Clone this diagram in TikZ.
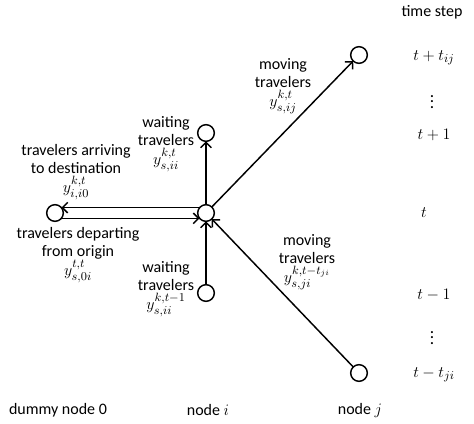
\documentclass[tikz,border=0pt]{standalone}
\usepackage{amsmath, amssymb}
\usepackage{fontspec}
\setmainfont{Carlito}
\usepackage{tikz}
\usetikzlibrary{arrows.meta}

\newcommand{\flowvar}[1]{{\fontsize{13}{14}\selectfont$#1$}}

\tikzset{
  stop/.style={circle, draw, line width=1.1pt, minimum size=12.5pt, inner sep=0pt, outer sep=0pt},
  flow/.style={line width=1.1pt, -{Straight Barb[length=4pt,width=8pt]}},
  lbl/.style={align=center, inner sep=0pt, font=\fontsize{12}{14}\selectfont}
}

\begin{document}
\begin{tikzpicture}[x=0.75pt, y=-0.75pt]
\useasboundingbox (0,0) rectangle (474,424);

% nodes of the network
\node[stop] (dummy) at (55,213) {};
\node[stop] (i)     at (206,213) {};
\node[stop] (iup)   at (206,133) {};
\node[stop] (idown) at (206,293) {};
\node[stop] (jup)   at (359,55) {};
\node[stop] (j)     at (359,373) {};

% flows
\draw[flow] (i.140) -- (dummy.40);
\draw[flow] (dummy.-40) -- (i.-140);
\draw[flow] (i) -- (iup);
\draw[flow] (idown) -- (i);
\draw[flow] (i) -- (jup);
\draw[flow] (j) -- (i);

% labels of the flows
\node[lbl] (arrive)  at (76,172)  {travelers arriving\\to destination\\\flowvar{y^{k,t}_{i,i0}}};
\node[lbl] (depart)  at (78,255)  {travelers departing\\from origin\\\flowvar{y^{t,t}_{s,0i}}};
\node[lbl] (waitup)  at (166,144) {waiting\\travelers\\\flowvar{y^{k,t}_{s,ii}}};
\node[lbl] (waitdn)  at (166,289) {waiting\\travelers\\\flowvar{y^{k,t-1}_{s,ii}}};
\node[lbl] (moveij)  at (283,86)  {moving\\travelers\\\flowvar{y^{k,t}_{s,ij}}};
\node[lbl] (moveji)  at (307,262) {moving\\travelers\\\flowvar{y^{k,t-t_{ji}}_{s,ji}}};

% time axis
\node[lbl] (tstep) at (432,12)  {time step};
\node[lbl] (t1)    at (434,58)  {\flowvar{t+t_{ij}}};
\node[lbl] (t2)    at (432,98)  {\flowvar{\vdots}};
\node[lbl] (t3)    at (434,135) {\flowvar{t+1}};
\node[lbl] (t4)    at (424,213) {\flowvar{t}};
\node[lbl] (t5)    at (434,295) {\flowvar{t-1}};
\node[lbl] (t6)    at (432,334) {\flowvar{\vdots}};
\node[lbl] (t7)    at (434,375) {\flowvar{t-t_{ji}}};

% node names
\node[lbl] (n0) at (58,410)  {dummy node 0};
\node[lbl] (ni) at (208,410) {node $i$};
\node[lbl] (nj) at (360,410) {node $j$};

\end{tikzpicture}
\end{document}
